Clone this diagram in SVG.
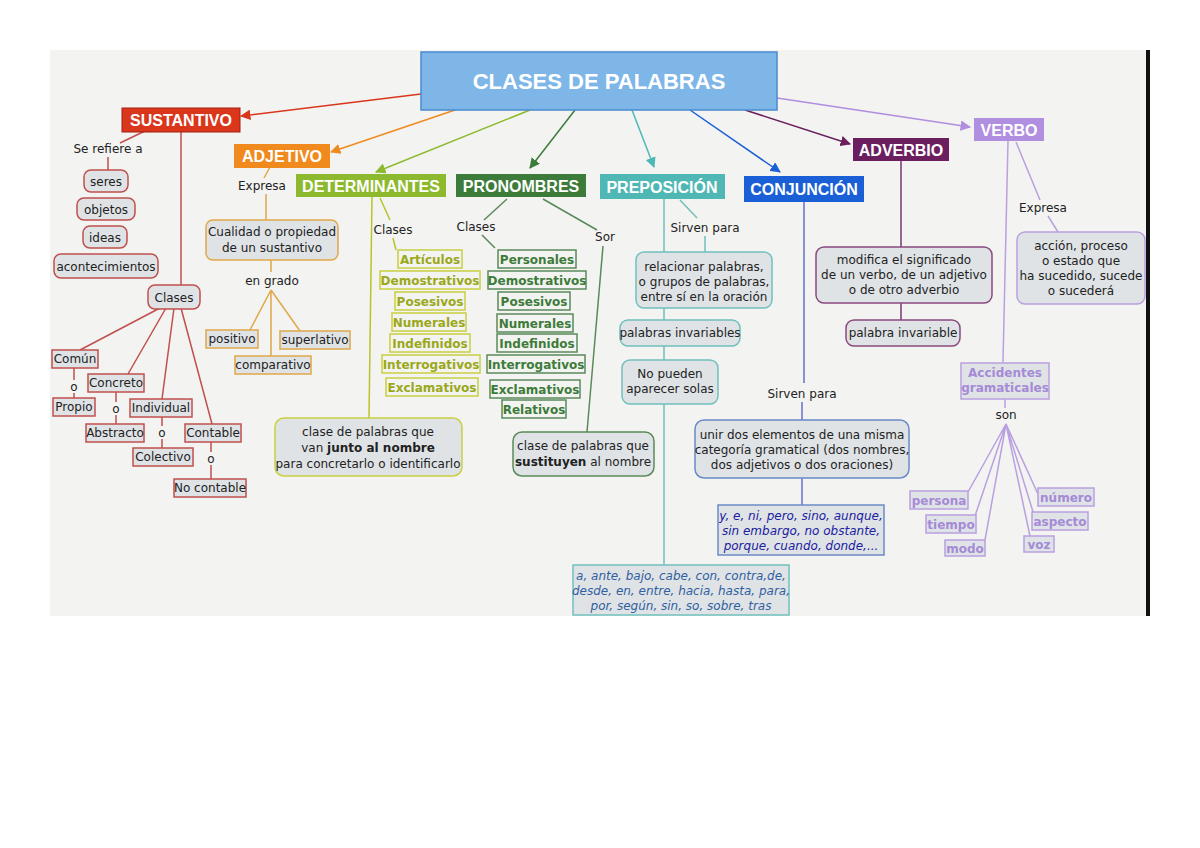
<svg xmlns="http://www.w3.org/2000/svg" width="1200" height="848" viewBox="0 0 1200 848">
<defs>
<style>
text{font-family:"DejaVu Sans","Liberation Sans",sans-serif;font-size:12px;fill:#222;text-anchor:middle;stroke:none}
.h{font-family:"Liberation Sans",Arial,sans-serif;font-weight:bold;fill:#fff;font-size:16px}
.ln{fill:none;stroke-width:1.5}
.pill{fill:#dfe3e6;stroke-width:1.5}
.b{font-weight:bold}
.it{font-style:italic}
</style>
<marker id="ar" viewBox="0 0 10 10" refX="9" refY="5" markerWidth="7" markerHeight="7" orient="auto-start-reverse"><path d="M0,0L10,5L0,10z" fill="context-stroke"/></marker>
</defs>
<rect width="1200" height="848" fill="#fff"/>
<rect x="50" y="50" width="1098" height="566" fill="#f3f3f1"/>
<rect x="1146" y="50" width="4" height="566" fill="#111"/>

<g id="connectors" class="ln">
<path d="M421,94L241,116" stroke="#d9361c" marker-end="url(#ar)"/>
<path d="M455,110L331,152" stroke="#f08a1e" marker-end="url(#ar)"/>
<path d="M530,110L376,172" stroke="#8db92e" marker-end="url(#ar)"/>
<path d="M575,110L530,168" stroke="#3d7b3a" marker-end="url(#ar)"/>
<path d="M632,110L654,167" stroke="#4fb8b4" marker-end="url(#ar)"/>
<path d="M690,110L780,172" stroke="#1a5fd6" marker-end="url(#ar)"/>
<path d="M745,110L850,144" stroke="#6b1f5f" marker-end="url(#ar)"/>
<path d="M777,98L970,127" stroke="#b08ee0" marker-end="url(#ar)"/>
<g stroke="#c0504d">
<path d="M145,131L120,143M108,157L108,170M181,131L181,285"/>
<path d="M160,308L80,350M166,308L128,374M174,308L162,399M181,308L212,424"/>
<path d="M74,368V380M74,393V398M116,392V402M116,415V424M162,417V426M162,439V448M211,442V452M211,465V479"/>
</g>
<g stroke="#e0a84a">
<path d="M270,167L264,178M266,194L266,220M271,260V272M271,290L250,330M271,290V356M271,290L300,331"/>
</g>
<g stroke="#b8c42a"><path d="M372,196L369,418M380,198L390,220M393,238L396,250"/></g>
<g stroke="#5a8a5a"><path d="M507,199L484,220M482,235L495,248M543,199L597,230M603,246L587,432"/></g>
<g stroke="#70c0bc"><path d="M664,199V565M680,200L697,218M705,236V252"/></g>
<g stroke="#6a70c8"><path d="M804,202V383M802,402V420M802,478V505"/></g>
<g stroke="#7a3a70"><path d="M901,160V247M901,303V320"/></g>
<g stroke="#b9a0e0"><path d="M1008,141L1003,362M1016,142L1040,200M1048,216L1058,232M1005,399V408"/>
<path d="M1006,424L968,492M1006,424L975,516M1006,424L985,540M1006,424L1038,494M1006,424L1034,515M1006,424L1030,536"/></g>
</g>

<g id="title"><rect x="421" y="52" width="356" height="58" fill="#7eb6e8" stroke="#4a8ad0" stroke-width="1.5"/><text x="599" y="89" class="h" style="font-size:22px">CLASES DE PALABRAS</text></g>

<g id="sustantivo"><rect x="122" y="108" width="118" height="24" fill="#d9361c" stroke="#a02010"/><text x="181" y="126" class="h">SUSTANTIVO</text></g>
<text x="108" y="153">Se refiere a</text>
<g stroke="#c0504d">
<g id="seres"><rect x="84" y="170" width="44" height="22" rx="7" class="pill"/><text x="106" y="186">seres</text></g>
<g id="objetos"><rect x="77" y="198" width="58" height="22" rx="7" class="pill"/><text x="106" y="214">objetos</text></g>
<g id="ideas"><rect x="83" y="226" width="44" height="22" rx="7" class="pill"/><text x="105" y="242">ideas</text></g>
<g id="acontecimientos"><rect x="54" y="254" width="104" height="24" rx="7" class="pill"/><text x="106" y="271">acontecimientos</text></g>
<g id="clases-s"><rect x="148" y="285" width="52" height="24" rx="7" class="pill"/><text x="174" y="302">Clases</text></g>
<g id="comun"><rect x="52" y="350" width="46" height="18" class="pill"/><text x="75" y="363">Común</text></g>
<g id="concreto"><rect x="88" y="374" width="56" height="18" class="pill"/><text x="116" y="387">Concreto</text></g>
<g id="individual"><rect x="130" y="399" width="62" height="18" class="pill"/><text x="161" y="412">Individual</text></g>
<g id="contable"><rect x="185" y="424" width="56" height="18" class="pill"/><text x="213" y="437">Contable</text></g>
<g id="propio"><rect x="53" y="398" width="42" height="18" class="pill"/><text x="74" y="411">Propio</text></g>
<g id="abstracto"><rect x="86" y="424" width="58" height="18" class="pill"/><text x="115" y="437">Abstracto</text></g>
<g id="colectivo"><rect x="133" y="448" width="60" height="18" class="pill"/><text x="163" y="461">Colectivo</text></g>
<g id="nocontable"><rect x="174" y="479" width="72" height="18" class="pill"/><text x="210" y="492">No contable</text></g>
</g>
<text x="74" y="391">o</text><text x="116" y="413">o</text><text x="162" y="437">o</text><text x="211" y="463">o</text>

<g id="adjetivo"><rect x="234" y="144" width="96" height="24" fill="#f08a1e"/><text x="282" y="162" class="h">ADJETIVO</text></g>
<text x="262" y="190">Expresa</text>
<g stroke="#e0a84a">
<g id="cualidad"><rect x="206" y="220" width="132" height="40" rx="7" class="pill"/><text x="272" y="236">Cualidad o propiedad</text><text x="272" y="252">de un sustantivo</text></g>
<g id="positivo"><rect x="206" y="330" width="52" height="18" class="pill"/><text x="232" y="343">positivo</text></g>
<g id="comparativo"><rect x="235" y="356" width="76" height="18" class="pill"/><text x="273" y="369">comparativo</text></g>
<g id="superlativo"><rect x="280" y="331" width="70" height="18" class="pill"/><text x="315" y="344">superlativo</text></g>
</g>
<text x="272" y="285">en grado</text>

<g id="determinantes"><rect x="296" y="174" width="150" height="23" fill="#8db92e"/><text x="371" y="192" class="h">DETERMINANTES</text></g>
<text x="393" y="234">Clases</text>
<g stroke="#c8d040">
<rect x="398" y="250" width="64" height="18" class="pill" style="fill:#f3f3f1"/><rect x="380" y="271" width="100" height="18" class="pill" style="fill:#f3f3f1"/><rect x="395" y="292" width="70" height="18" class="pill" style="fill:#f3f3f1"/><rect x="392" y="313" width="74" height="18" class="pill" style="fill:#f3f3f1"/><rect x="390" y="334" width="80" height="18" class="pill" style="fill:#f3f3f1"/><rect x="382" y="355" width="98" height="18" class="pill" style="fill:#f3f3f1"/><rect x="386" y="378" width="92" height="18" class="pill" style="fill:#f3f3f1"/>
</g>
<g>
<text x="430" y="264" style="fill:#9aa81a" class="b">Artículos</text><text x="430" y="285" style="fill:#9aa81a" class="b">Demostrativos</text><text x="430" y="306" style="fill:#9aa81a" class="b">Posesivos</text><text x="429" y="327" style="fill:#9aa81a" class="b">Numerales</text><text x="430" y="348" style="fill:#9aa81a" class="b">Indefinidos</text><text x="431" y="369" style="fill:#9aa81a" class="b">Interrogativos</text><text x="432" y="392" style="fill:#9aa81a" class="b">Exclamativos</text>
</g>
<g id="det-def"><rect x="275" y="418" width="187" height="58" rx="9" class="pill" stroke="#c8d040"/><text x="368" y="436">clase de palabras que</text><text x="368" y="452">van <tspan class="b">junto al nombre</tspan></text><text x="368" y="468">para concretarlo o identificarlo</text></g>

<g id="pronombres"><rect x="456" y="174" width="130" height="23" fill="#3d7b3a"/><text x="521" y="192" class="h">PRONOMBRES</text></g>
<text x="476" y="231">Clases</text><text x="605" y="241">Sor</text>
<g stroke="#5a8a5a">
<rect x="498" y="250" width="78" height="18" class="pill" style="fill:#f3f3f1"/><rect x="488" y="271" width="98" height="18" class="pill" style="fill:#f3f3f1"/><rect x="498" y="292" width="72" height="18" class="pill" style="fill:#f3f3f1"/><rect x="497" y="314" width="76" height="18" class="pill" style="fill:#f3f3f1"/><rect x="497" y="334" width="80" height="18" class="pill" style="fill:#f3f3f1"/><rect x="487" y="355" width="98" height="18" class="pill" style="fill:#f3f3f1"/><rect x="490" y="380" width="90" height="18" class="pill" style="fill:#f3f3f1"/><rect x="502" y="400" width="64" height="18" class="pill" style="fill:#f3f3f1"/>
</g>
<text x="537" y="264" style="fill:#3d7b3a" class="b">Personales</text><text x="537" y="285" style="fill:#3d7b3a" class="b">Demostrativos</text><text x="534" y="306" style="fill:#3d7b3a" class="b">Posesivos</text><text x="535" y="328" style="fill:#3d7b3a" class="b">Numerales</text><text x="537" y="348" style="fill:#3d7b3a" class="b">Indefinidos</text><text x="536" y="369" style="fill:#3d7b3a" class="b">Interrogativos</text><text x="535" y="394" style="fill:#3d7b3a" class="b">Exclamativos</text><text x="534" y="414" style="fill:#3d7b3a" class="b">Relativos</text>
<g id="pro-def"><rect x="513" y="432" width="141" height="44" rx="9" class="pill" stroke="#5a8a5a"/><text x="583" y="450">clase de palabras que</text><text x="583" y="466"><tspan class="b">sustituyen</tspan> al nombre</text></g>

<g id="preposicion"><rect x="600" y="174" width="125" height="25" fill="#4fb8b4"/><text x="662" y="193" class="h">PREPOSICIÓN</text></g>
<text x="705" y="232">Sirven para</text>
<g stroke="#70c0bc">
<g id="relacionar"><rect x="636" y="252" width="136" height="56" rx="8" class="pill"/><text x="704" y="271">relacionar palabras,</text><text x="704" y="286">o grupos de palabras,</text><text x="704" y="301">entre sí en la oración</text></g>
<g id="inv-p"><rect x="620" y="320" width="120" height="26" rx="8" class="pill"/><text x="680" y="337">palabras invariables</text></g>
<g id="nopueden"><rect x="622" y="360" width="96" height="44" rx="8" class="pill"/><text x="670" y="378">No pueden</text><text x="670" y="393">aparecer solas</text></g>
<g id="prep-list"><rect x="573" y="565" width="216" height="50" class="pill"/><text x="681" y="580" class="it" style="fill:#3060a0">a, ante, bajo, cabe, con, contra,de,</text><text x="681" y="595" class="it" style="fill:#3060a0">desde, en, entre, hacia, hasta, para,</text><text x="681" y="610" class="it" style="fill:#3060a0">por, según, sin, so, sobre, tras</text></g>
</g>

<g id="conjuncion"><rect x="744" y="176" width="120" height="26" fill="#1a5fd6"/><text x="804" y="195" class="h">CONJUNCIÓN</text></g>
<text x="802" y="398">Sirven para</text>
<g stroke="#6a8ac8">
<g id="unir"><rect x="695" y="420" width="214" height="58" rx="9" class="pill"/><text x="802" y="439">unir dos elementos de una misma</text><text x="802" y="454">categoría gramatical (dos nombres,</text><text x="802" y="469">dos adjetivos o dos oraciones)</text></g>
<g id="conj-list"><rect x="718" y="505" width="166" height="50" class="pill"/><text x="801" y="520" class="it" style="fill:#2020a0">y, e, ni, pero, sino, aunque,</text><text x="801" y="535" class="it" style="fill:#2020a0">sin embargo, no obstante,</text><text x="801" y="550" class="it" style="fill:#2020a0">porque, cuando, donde,...</text></g>
</g>

<g id="adverbio"><rect x="853" y="138" width="96" height="23" fill="#6b1f5f"/><text x="901" y="156" class="h">ADVERBIO</text></g>
<g stroke="#8a4a80">
<g id="modifica"><rect x="816" y="247" width="176" height="56" rx="8" class="pill"/><text x="904" y="264">modifica el significado</text><text x="904" y="279">de un verbo, de un adjetivo</text><text x="904" y="294">o de otro adverbio</text></g>
<g id="inv-a"><rect x="846" y="320" width="114" height="26" rx="8" class="pill"/><text x="903" y="337">palabra invariable</text></g>
</g>

<g id="verbo"><rect x="974" y="118" width="70" height="23" fill="#b08ee0"/><text x="1009" y="136" class="h">VERBO</text></g>
<text x="1043" y="212">Expresa</text>
<g id="accion"><rect x="1017" y="232" width="128" height="72" rx="8" class="pill" stroke="#b9a0e0"/><text x="1081" y="250">acción, proceso</text><text x="1081" y="265">o estado que</text><text x="1081" y="280">ha sucedido, sucede</text><text x="1081" y="295">o sucederá</text></g>
<g stroke="#b9a0e0">
<g id="accidentes"><rect x="961" y="363" width="88" height="36" class="pill"/><text x="1005" y="377" class="b" style="fill:#a58ad6">Accidentes</text><text x="1005" y="392" class="b" style="fill:#a58ad6">gramaticales</text></g>
<rect x="910" y="491" width="58" height="18" class="pill"/><rect x="926" y="515" width="50" height="18" class="pill"/><rect x="945" y="540" width="40" height="16" class="pill"/><rect x="1038" y="488" width="56" height="18" class="pill"/><rect x="1032" y="512" width="56" height="18" class="pill"/><rect x="1024" y="536" width="30" height="16" class="pill"/>
</g>
<text x="1006" y="419">son</text>
<text x="939" y="505" class="b" style="fill:#a58ad6">persona</text><text x="951" y="529" class="b" style="fill:#a58ad6">tiempo</text><text x="965" y="553" class="b" style="fill:#a58ad6">modo</text><text x="1066" y="502" class="b" style="fill:#a58ad6">número</text><text x="1060" y="526" class="b" style="fill:#a58ad6">aspecto</text><text x="1039" y="549" class="b" style="fill:#a58ad6">voz</text>
</svg>
